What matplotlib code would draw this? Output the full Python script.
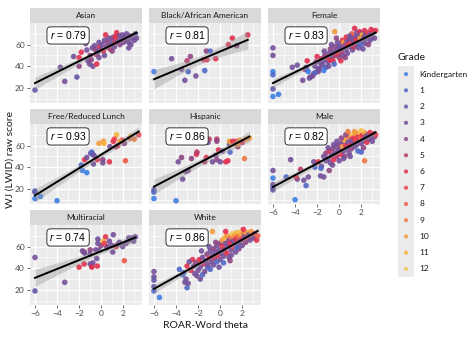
import numpy as np
import matplotlib
matplotlib.use("Agg")
import matplotlib.pyplot as plt

plt.rcParams["font.family"] = ["Lato", "DejaVu Sans"]
plt.rcParams["mathtext.fontset"] = "custom"
plt.rcParams["mathtext.it"] = "Liberation Sans:italic"
plt.rcParams["mathtext.rm"] = "Liberation Sans"

# grade levels and colours (blue -> purple -> red -> orange)
grades = ["Kindergarten", "1", "2", "3", "4", "5", "6", "7", "8", "9", "10", "11", "12"]
grade_colors = ["#3E7FE6", "#5068C8", "#6259A8", "#74509A", "#8E4683", "#B83A67", "#E2304F",
                "#EC3F4E", "#EE5A48", "#EF7A45", "#F39A3E", "#F5B23C", "#F4C65A"]

groups = ["Asian", "Black/African American", "Female", "Free/Reduced Lunch",
          "Hispanic", "Male", "Multiracial", "White"]
r_values = [0.79, 0.81, 0.83, 0.93, 0.86, 0.82, 0.74, 0.86]

# ROAR-Word theta, WJ raw score and grade index for each group
asian_theta = [-6.0, -3.7, -3.3, -2.2, -2.5, -2.0, -1.8, -2.0, -1.4, -1.3,
               -1.2, -1.05, -0.9, -0.75, -0.4, -0.15, -0.45, -1.0, -0.8, -0.6,
               -0.5, -0.3, -0.2, 0.0, 0.1, 0.2, 0.3, 0.4, 0.5, 0.6,
               0.7, 0.8, 0.9, 1.0, 1.1, 1.2, 1.3, 1.4, 1.5, 1.6,
               1.7, 1.8, 1.9, 2.0, 2.1, 2.2, 2.3, 2.4, 2.5, 2.6,
               2.7, 2.8, 3.0, 3.1, 3.2, 2.5, 1.0, -0.2, 0.3, 1.3]
asian_score = [18, 39, 26, 30, 49, 48, 53, 40, 61, 55,
               45, 42, 46, 40, 42, 58, 51, 50, 57, 59,
               55, 53, 62, 56, 60, 54, 64, 69, 58, 62,
               66, 56, 60, 64, 67, 58, 62, 71, 63, 68,
               60, 65, 69, 62, 67, 64, 70, 66, 62, 68,
               60, 66, 64, 70, 66, 57, 54, 48, 50, 67]
asian_grade = [2, 3, 3, 2, 3, 6, 6, 4, 3, 3,
               3, 3, 4, 3, 6, 6, 5, 4, 3, 3,
               4, 3, 3, 4, 3, 6, 3, 6, 3, 4,
               3, 5, 3, 3, 4, 3, 6, 6, 3, 3,
               4, 3, 3, 3, 3, 4, 3, 3, 3, 3,
               3, 3, 3, 3, 3, 3, 4, 3, 3, 6]

black_theta = [-6.0, -4.4, -3.5, -3.2, -2.9, -3.0, -2.7, -2.2, -1.4, -1.5,
               -1.25, -0.9, -1.2, -0.4, 0.75, 1.1, 1.5, 2.5]
black_score = [35, 47, 37, 27, 35, 45, 49, 31, 36, 46,
               54, 54, 46, 47, 60, 66, 59, 69]
black_grade = [0, 3, 3, 3, 1, 5, 4, 3, 1, 6,
               4, 1, 6, 6, 6, 6, 4, 6]

female_theta = [-6.0, -6.0, -6.0, -6.0, -6.0, -6.0, -5.5, -4.25, -3.8, -3.3,
                -3.1, -2.95, -2.7, -2.4, -2.3, -2.9, -3.0, -2.0, -1.4, -2.8,
                -2.2, -2.1, -1.8, -1.7, -1.6, -1.9, -1.5, -1.4, -1.3, -1.2,
                -1.35, -1.0, -1.1, -0.9, -0.95, -0.8, -0.85, -0.6, -0.5, -0.55,
                -0.4, -0.45, -0.7, -0.35, -0.2, -0.1, -0.15, 0.0, -0.05, -0.4,
                -0.25, 0.1, 0.2, 0.25, 0.3, 0.4, 0.35, 0.15, 0.5, 0.6,
                0.7, 0.65, 0.75, 0.55, 0.8, 0.9, 1.0, 1.1, 1.05, 1.2,
                1.15, 0.95, 1.3, 1.4, 1.45, 1.5, 1.35, 1.6, 1.55, 1.7,
                1.8, 1.9, 1.85, 1.75, 2.0, 1.95, 2.1, 2.2, 2.3, 2.25,
                2.4, 2.35, 2.15, 2.5, 2.6, 2.7, 2.8, 2.65, 2.9, 3.0,
                3.1, 3.2, -2.6, -2.2, -1.9, 3.3, 2.9]
female_score = [57, 50, 35, 32, 19, 12, 14, 39, 41, 27,
                37, 37, 29, 31, 33, 45, 39, 49, 36, 35,
                40, 44, 38, 43, 47, 35, 41, 45, 50, 39,
                54, 44, 48, 52, 40, 56, 46, 49, 53, 45,
                58, 42, 60, 50, 55, 51, 62, 48, 58, 72,
                66, 57, 53, 61, 64, 62, 50, 45, 59, 55,
                63, 67, 52, 48, 60, 64, 58, 66, 61, 55,
                70, 68, 63, 75, 67, 60, 58, 71, 64, 68,
                62, 66, 72, 57, 70, 60, 69, 64, 73, 67,
                70, 61, 56, 66, 71, 68, 64, 60, 70, 67,
                72, 66, 30, 34, 37, 73, 74]
female_grade = [3, 3, 0, 1, 2, 0, 0, 3, 3, 3,
                6, 1, 3, 3, 4, 6, 3, 6, 0, 0,
                3, 4, 3, 3, 5, 4, 3, 3, 4, 1,
                3, 3, 5, 3, 3, 4, 6, 3, 3, 6,
                4, 1, 3, 5, 3, 6, 3, 4, 3, 10,
                4, 3, 5, 3, 6, 10, 3, 6, 4, 3,
                3, 6, 3, 4, 6, 3, 4, 3, 7, 3,
                8, 3, 3, 6, 4, 3, 5, 3, 6, 3,
                3, 10, 6, 3, 3, 1, 11, 3, 6, 4,
                3, 3, 3, 3, 7, 3, 3, 4, 3, 3,
                6, 3, 3, 1, 3, 6, 6]

frl_theta = [-6.0, -6.0, -6.0, -5.5, -4.0, -1.8, -1.7, -1.3, -1.5, -1.3,
             -0.95, -0.85, -0.8, -0.65, -0.35, -0.7, 0.15, 0.15, 0.75, -0.2,
             0.2, 0.25, 0.8, 1.1, 1.4, 1.5, 1.2, 1.9, 2.1, 2.2,
             2.6, 2.7, 3.0, 3.4, 1.7, 1.35]
frl_score = [18, 17, 11, 13, 9, 42, 37, 35, 47, 49,
             53, 54, 52, 51, 47, 43, 47, 44, 45, 62,
             64, 62, 59, 64, 70, 60, 66, 65, 62, 46,
             67, 69, 66, 70, 64, 59]
frl_grade = [1, 2, 0, 0, 0, 1, 0, 0, 6, 3,
             3, 1, 1, 3, 6, 3, 4, 3, 6, 10,
             10, 11, 3, 6, 11, 6, 7, 7, 4, 8,
             8, 12, 9, 7, 10, 5]

hispanic_theta = [-6.0, -6.0, -6.0, -4.0, -3.8, -3.5, -3.4, -2.9, -3.1, -2.6,
                  -2.15, -2.1, -1.4, -1.25, -1.1, -1.0, -0.7, -0.4, -0.3, 0.0,
                  -0.15, 0.5, 0.2, 0.85, 1.0, 1.3, 1.45, 1.6, 0.9, 0.85,
                  1.15, 1.75, 1.6, 2.2, 2.35, 2.0, 2.65, -0.3, -0.3, 0.7]
hispanic_score = [19, 17, 11, 9, 45, 49, 29, 37, 36, 48,
                  52, 54, 45, 49, 63, 66, 45, 51, 47, 45,
                  56, 45, 55, 61, 63, 62, 64, 59, 54, 64,
                  64, 65, 61, 48, 66, 63, 67, 66, 64, 46]
hispanic_grade = [2, 1, 0, 0, 3, 4, 3, 4, 3, 4,
                  6, 5, 5, 6, 3, 5, 3, 3, 4, 3,
                  6, 6, 3, 3, 10, 11, 7, 4, 1, 10,
                  6, 10, 10, 9, 10, 6, 10, 5, 4, 6]

male_theta = [-6.0, -6.0, -6.0, -6.0, -6.0, -4.8, -4.4, -4.0, -3.8, -3.9,
              -3.2, -3.0, -3.5, -2.8, -2.2, -2.3, -1.7, -1.4, -1.9, -1.2,
              -1.6, -0.9, -1.65, -0.6, 2.0, 2.3, -1.4, -1.2, -1.0, -0.9,
              -0.8, -0.7, -0.6, -0.5, -0.4, -0.3, -0.2, -0.1, 0.0, 0.0,
              0.1, 0.2, 0.3, 0.3, 0.4, 0.5, 0.5, 0.6, 0.7, 0.7,
              0.8, 0.9, 0.9, 1.0, 1.1, 1.1, 1.2, 1.3, 1.3, 1.4,
              1.5, 1.5, 1.6, 1.7, 1.7, 1.8, 1.9, 1.9, 2.0, 2.1,
              2.2, 2.2, 2.3, 2.4, 2.5, 2.6, 2.7, 2.8, 2.9, 3.0,
              3.1, 3.2, 3.3, -0.2, 0.4, 1.0, 0.6, -1.0, 0.2, -0.5,
              1.4, 2.0, 0.8]
male_score = [37, 30, 24, 21, 19, 31, 47, 10, 29, 31,
              28, 23, 38, 31, 40, 45, 32, 31, 45, 46,
              41, 37, 39, 42, 54, 46, 50, 53, 48, 55,
              44, 51, 57, 47, 53, 59, 50, 55, 61, 46,
              57, 52, 63, 59, 55, 65, 50, 60, 57, 67,
              63, 53, 69, 60, 65, 57, 70, 62, 67, 59,
              71, 65, 61, 68, 55, 64, 72, 67, 62, 70,
              65, 58, 72, 68, 63, 70, 66, 72, 68, 64,
              71, 68, 70, 64, 48, 50, 70, 58, 67, 61,
              73, 74, 73]
male_grade = [3, 0, 3, 2, 2, 1, 3, 0, 3, 6,
              3, 1, 5, 3, 1, 3, 3, 3, 6, 3,
              3, 4, 1, 3, 1, 9, 3, 4, 3, 6,
              3, 3, 4, 6, 3, 3, 5, 3, 4, 3,
              3, 6, 3, 10, 3, 11, 4, 6, 3, 10,
              3, 3, 9, 6, 3, 4, 12, 3, 6, 3,
              10, 7, 3, 6, 1, 3, 11, 8, 3, 6,
              3, 4, 10, 3, 6, 3, 4, 6, 3, 3,
              6, 3, 7, 3, 3, 3, 4, 3, 4, 3,
              10, 12, 9]

multi_theta = [-6.0, -6.0, -3.3, -2.0, -1.7, -1.55, -1.55, -1.5, -1.0, -1.0,
               -0.85, -0.75, -0.85, -0.35, -0.4, -0.3, -0.3, -0.2, 0.0, 0.4,
               0.2, 0.3, 0.6, 0.75, 1.0, 1.35, 1.5, 1.65, 1.95, 2.1,
               2.25, 2.5, 2.6, 2.8, 2.95, 3.1, 1.1, 0.5, -0.5, -1.0,
               1.05]
multi_score = [50, 19, 27, 41, 56, 55, 44, 54, 53, 44,
               42, 45, 41, 42, 49, 67, 63, 57, 61, 69,
               65, 63, 60, 65, 61, 60, 62, 64, 60, 47,
               63, 68, 66, 68, 65, 69, 71, 59, 57, 57,
               55]
multi_grade = [3, 2, 3, 6, 3, 4, 6, 3, 3, 3,
               4, 3, 6, 6, 3, 3, 3, 3, 4, 6,
               11, 7, 3, 3, 3, 6, 3, 3, 3, 8,
               3, 3, 3, 3, 3, 3, 3, 4, 3, 4,
               3]

white_theta = [-6.0, -6.0, -6.0, -6.0, -6.0, -5.5, -3.7, -3.4, -3.3, -3.2,
               -3.1, -3.0, -2.65, -2.5, -2.1, -1.8, -1.6, -1.15, -2.9, -3.0,
               -2.8, -2.4, -2.2, -2.0, -1.9, -1.8, -1.6, -1.5, -1.4, -1.3,
               -1.2, -1.1, -1.0, -0.9, -0.9, -0.8, -0.7, -0.6, -0.6, -0.5,
               -0.4, -0.3, -0.3, -0.2, -0.1, 0.0, 0.0, 0.1, 0.2, 0.2,
               0.3, 0.4, 0.4, 0.5, 0.6, 0.6, 0.7, 0.8, 0.8, 0.9,
               1.0, 1.0, 1.1, 1.2, 1.2, 1.3, 1.4, 1.4, 1.5, 1.6,
               1.6, 1.7, 1.8, 1.8, 1.9, 2.0, 2.0, 2.1, 2.2, 2.3,
               2.4, 2.5, 2.6, 2.7, 2.8, 2.9, 3.0, 3.1, 3.3, 3.4,
               -0.7, 0.5, 2.1, -1.0, -0.4, 0.3, 1.0, -1.7, 1.5, -2.3,
               -0.1, 0.9]
white_score = [37, 32, 29, 23, 19, 13, 39, 34, 36, 27,
               30, 22, 38, 48, 33, 30, 34, 41, 26, 42,
               46, 42, 45, 38, 48, 41, 50, 44, 37, 47,
               53, 43, 49, 56, 39, 46, 52, 58, 43, 49,
               55, 61, 46, 52, 57, 63, 48, 54, 60, 66,
               51, 57, 68, 63, 54, 70, 60, 66, 50, 63,
               69, 57, 72, 65, 60, 70, 55, 67, 73, 62,
               69, 58, 71, 65, 74, 67, 61, 72, 69, 64,
               73, 68, 71, 66, 74, 70, 68, 72, 66, 70,
               74, 74, 76, 60, 64, 45, 52, 56, 59, 35,
               41, 47]
white_grade = [3, 3, 2, 2, 1, 0, 1, 1, 1, 3,
               3, 1, 6, 6, 3, 3, 1, 1, 3, 6,
               3, 3, 4, 3, 6, 3, 3, 5, 3, 3,
               4, 3, 6, 3, 1, 3, 3, 4, 3, 5,
               3, 3, 1, 6, 3, 4, 3, 3, 6, 10,
               3, 4, 11, 3, 6, 10, 3, 4, 3, 6,
               9, 3, 12, 3, 7, 10, 3, 6, 11, 3,
               8, 4, 10, 3, 12, 6, 3, 9, 3, 4,
               10, 6, 3, 3, 10, 6, 3, 7, 6, 8,
               10, 6, 6, 3, 4, 1, 3, 3, 1, 3,
               3, 4]

theta_sets = [asian_theta, black_theta, female_theta, frl_theta,
              hispanic_theta, male_theta, multi_theta, white_theta]
score_sets = [asian_score, black_score, female_score, frl_score,
              hispanic_score, male_score, multi_score, white_score]
grade_sets = [asian_grade, black_grade, female_grade, frl_grade,
              hispanic_grade, male_grade, multi_grade, white_grade]

FIG_W, FIG_H = 474, 338
fig = plt.figure(figsize=(FIG_W / 100, FIG_H / 100), dpi=100)


def add_px_axes(left, top, width, height):
    # axes placed in pixel units measured from the top-left corner
    return fig.add_axes([left / FIG_W, 1 - (top + height) / FIG_H,
                         width / FIG_W, height / FIG_H])


panel_left = [30, 149, 268]
strip_top = [8, 109, 210]
PANEL_W, STRIP_H, PANEL_H = 112, 15, 80

for i, name in enumerate(groups):
    row, col = divmod(i, 3)
    x = np.array(theta_sets[i], dtype=float)
    y = np.array(score_sets[i], dtype=float)
    colors = [grade_colors[g] for g in grade_sets[i]]

    ax = add_px_axes(panel_left[col], strip_top[row] + STRIP_H, PANEL_W, PANEL_H)
    ax.set_facecolor("#EBEBEB")
    ax.set_xlim(-6.45, 3.7)
    ax.set_ylim(6, 80)
    ax.set_xticks([-6, -4, -2, 0, 2])
    ax.set_xticks([-5, -3, -1, 1, 3], minor=True)
    ax.set_yticks([20, 40, 60])
    ax.set_yticks([10, 30, 50, 70], minor=True)
    ax.grid(which="major", color="white", lw=0.9)
    ax.grid(which="minor", color="white", lw=0.45)
    ax.set_axisbelow(True)
    for sp in ax.spines.values():
        sp.set_visible(False)
    ax.tick_params(which="major", length=2.2, width=0.5, color="#333333",
                   labelsize=6, labelcolor="#4D4D4D", pad=1.5)
    ax.tick_params(which="minor", length=0)
    if col != 0:
        ax.tick_params(axis="y", which="major", length=0, labelleft=False)
    if not (row == 2 or i == 5):
        ax.tick_params(axis="x", which="major", length=0, labelbottom=False)

    ax.scatter(x, y, c=colors, s=16, alpha=0.9, linewidths=0, zorder=3)

    # least-squares line with a 95% confidence band
    slope, icpt = np.polyfit(x, y, 1)
    xs = np.linspace(x.min(), x.max(), 80)
    fit = icpt + slope * xs
    n = len(x)
    resid = y - (icpt + slope * x)
    s = np.sqrt(np.sum(resid ** 2) / (n - 2))
    se = s * np.sqrt(1 / n + (xs - x.mean()) ** 2 / np.sum((x - x.mean()) ** 2))
    tq = 1.96 + 2.5 / (n - 2)
    ax.fill_between(xs, fit - tq * se, fit + tq * se, color="#999999", alpha=0.4,
                    lw=0, zorder=4)
    ax.plot(xs, fit, color="black", lw=1.4, zorder=5)

    ax.text(-3.0, 68.5, f"$r$ = {r_values[i]:.2f}", ha="center", va="center",
            fontsize=7.5, family="Liberation Sans", color="black", zorder=6,
            bbox=dict(boxstyle="round,pad=0.25,rounding_size=0.35", fc="white",
                      ec="#333333", lw=0.7))

    strip = add_px_axes(panel_left[col], strip_top[row], PANEL_W, STRIP_H)
    strip.set_facecolor("#D9D9D9")
    strip.set_xticks([])
    strip.set_yticks([])
    for sp in strip.spines.values():
        sp.set_visible(False)
    strip.text(0.5, 0.5, name, ha="center", va="center", fontsize=6,
               color="#1A1A1A", transform=strip.transAxes)

fig.text(205.5 / FIG_W, 1 - 325 / FIG_H, "ROAR-Word theta", ha="center", va="center",
         fontsize=7.5, color="#1A1A1A")
fig.text(10 / FIG_W, 1 - 160 / FIG_H, "WJ (LWID) raw score", ha="center", va="center",
         rotation=90, fontsize=7.5, color="#1A1A1A")

# grade legend
fig.text(398 / FIG_W, 1 - 57 / FIG_H, "Grade", ha="left", va="center",
         fontsize=7.5, color="#1A1A1A")
leg = add_px_axes(398, 66, 16, 211)
leg.set_facecolor("#EBEBEB")
leg.set_xlim(0, 1)
leg.set_ylim(len(grades) - 0.5, -0.5)
leg.set_xticks([])
leg.set_yticks([])
for sp in leg.spines.values():
    sp.set_visible(False)
leg.scatter([0.5] * len(grades), range(len(grades)), c=grade_colors, s=9,
            alpha=0.85, linewidths=0)
for k, label in enumerate(grades):
    leg.text(1.35, k, label, ha="left", va="center", fontsize=6, color="#1A1A1A",
             transform=leg.get_yaxis_transform())

fig.savefig("out.png", dpi=100, facecolor="white")
